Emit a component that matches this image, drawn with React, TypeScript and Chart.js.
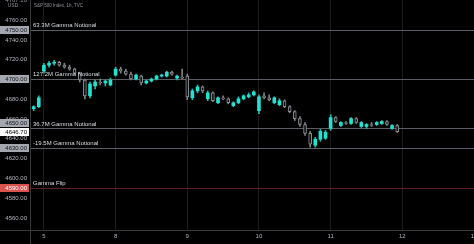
import React, { useEffect, useRef } from 'react';
import { Chart, registerables } from 'chart.js';
Chart.register(...registerables);

// ---- data ----
const dayLabels = ['5', '8', '9', '10', '11', '12', '15'];
const sessionDay = [-1, 0, 1, 2, 3, 4];
const sessionFirstSlot = [12, 0, 0, 0, 0, 0];
const sessionBars = [2, 14, 14, 14, 14, 14];
const slotsPerDay = 14;

const opens = [
  4670, 4672,
  4708, 4714, 4716, 4717, 4714, 4712, 4710, 4706, 4699, 4683, 4693, 4697, 4696, 4694,
  4704, 4710, 4708, 4705, 4700, 4703, 4696, 4698, 4700, 4703, 4703, 4707, 4701, 4702,
  4703, 4681, 4688, 4692, 4680, 4686, 4676, 4681, 4680, 4673, 4676, 4680, 4682, 4684,
  4668, 4683, 4681, 4676, 4674, 4678, 4672, 4667, 4660, 4654, 4645, 4633, 4639, 4640,
  4650, 4661, 4653, 4656, 4655, 4660, 4652, 4652, 4654, 4654, 4655, 4657, 4650, 4653,
];
const highs = [
  4673, 4683,
  4716, 4718, 4719, 4718, 4716, 4714, 4711, 4707, 4700, 4697, 4699, 4700, 4699, 4701,
  4712, 4712, 4710, 4707, 4705, 4704, 4699, 4701, 4704, 4705, 4708, 4708, 4704, 4710,
  4705, 4690, 4694, 4693, 4688, 4687, 4682, 4683, 4681, 4677, 4682, 4684, 4686, 4688,
  4684, 4686, 4684, 4682, 4680, 4679, 4673, 4668, 4662, 4656, 4647, 4641, 4649, 4648,
  4664, 4662, 4657, 4657, 4661, 4661, 4657, 4655, 4656, 4657, 4658, 4658, 4654, 4654,
];
const lows = [
  4668, 4671,
  4706, 4712, 4714, 4713, 4711, 4709, 4705, 4697, 4680, 4681, 4690, 4694, 4693, 4693,
  4703, 4706, 4704, 4699, 4699, 4694, 4695, 4697, 4699, 4702, 4702, 4704, 4699, 4700,
  4679, 4679, 4686, 4686, 4678, 4677, 4675, 4679, 4675, 4672, 4675, 4679, 4681, 4683,
  4665, 4680, 4678, 4675, 4673, 4671, 4666, 4658, 4652, 4643, 4631, 4631, 4637, 4639,
  4648, 4656, 4652, 4654, 4654, 4655, 4651, 4650, 4652, 4653, 4654, 4653, 4649, 4646,
];
const closes = [
  4672, 4681,
  4714, 4716, 4717, 4714, 4712, 4710, 4706, 4699, 4683, 4695, 4697, 4696, 4698, 4699,
  4710, 4708, 4705, 4700, 4704, 4696, 4698, 4700, 4703, 4704, 4707, 4705, 4703, 4701,
  4682, 4688, 4692, 4688, 4686, 4678, 4681, 4680, 4676, 4676, 4680, 4683, 4684, 4687,
  4682, 4681, 4679, 4681, 4678, 4672, 4667, 4660, 4654, 4645, 4634, 4639, 4647, 4646,
  4661, 4657, 4656, 4655, 4660, 4656, 4656, 4654, 4653, 4656, 4657, 4654, 4653, 4646.7,
];

const yTicks = [4560, 4580, 4600, 4620, 4640, 4660, 4680, 4700, 4720, 4740, 4760];
const levelPrices = [4750, 4700, 4650, 4630];
const levelLabels = ['63.3M Gamma Notional', '127.2M Gamma Notional', '36.7M Gamma Notional', '-19.5M Gamma Notional'];
const gammaFlip = 4590;
const gammaFlipLabel = 'Gamma Flip';
const lastPrice = 4646.7;
const headerTitle = 'S&P 500 Index, 1h, TVC';
const topPriceLabel = '4767.10';
const currencyLabel = 'USD';

// ---- helpers ----
const xPos: number[] = [];
sessionDay.forEach((d, s) => {
  for (let k = 0; k < sessionBars[s]; k++) xPos.push(d + (sessionFirstSlot[s] + k) / slotsPerDay);
});

const UP = '#22e3cf';
const DOWN_BORDER = '#8a8d93';
const FONT = '"Liberation Sans", Arial, sans-serif';

export default function App() {
  const ref = useRef<HTMLCanvasElement>(null);
  useEffect(() => {
    document.body.style.margin = '0';
    document.body.style.background = '#000';
    const bodies = opens.map((o, i) => {
      let lo = Math.min(o, closes[i]);
      let hi = Math.max(o, closes[i]);
      if (hi - lo < 0.4) hi = lo + 0.4;
      return { x: xPos[i], y: [lo, hi] };
    });
    const wicks = highs.map((h, i) => ({ x: xPos[i], y: [lows[i], h] }));
    const isUp = opens.map((o, i) => closes[i] >= o);

    const overlay = {
      id: 'overlay',
      beforeDraw(chart: any) {
        const c = chart.ctx;
        c.save();
        c.fillStyle = '#000';
        c.fillRect(0, 0, chart.width, chart.height);
        c.restore();
      },
      beforeDatasetsDraw(chart: any) {
        const c = chart.ctx;
        const { left, right, bottom } = chart.chartArea;
        const y = chart.scales.y;
        c.save();
        c.lineWidth = 1;
        levelPrices.forEach((p) => {
          const py = Math.round(y.getPixelForValue(p)) + 0.5;
          c.strokeStyle = '#5b5e64';
          c.beginPath();
          c.moveTo(left, py);
          c.lineTo(right, py);
          c.stroke();
        });
        const fy = Math.round(y.getPixelForValue(gammaFlip)) + 0.5;
        c.strokeStyle = '#5a2424';
        c.beginPath();
        c.moveTo(left, fy);
        c.lineTo(right, fy);
        c.stroke();
        // axis lines
        c.strokeStyle = '#3a3a3a';
        c.beginPath();
        c.moveTo(Math.round(left) - 0.5, 0);
        c.lineTo(Math.round(left) - 0.5, chart.height);
        c.moveTo(0, Math.round(bottom) + 0.5);
        c.lineTo(chart.width, Math.round(bottom) + 0.5);
        c.stroke();
        c.restore();
      },
      afterDatasetsDraw(chart: any) {
        const c = chart.ctx;
        const { left } = chart.chartArea;
        const y = chart.scales.y;
        c.save();
        c.font = `6px ${FONT}`;
        c.fillStyle = '#dcdee4';
        c.textAlign = 'left';
        c.textBaseline = 'bottom';
        levelPrices.forEach((p, i) => {
          c.fillText(levelLabels[i], left + 2, y.getPixelForValue(p) - 1.5);
        });
        c.fillText(gammaFlipLabel, left + 2, y.getPixelForValue(gammaFlip) - 1.5);
        c.restore();
      },
      afterDraw(chart: any) {
        const c = chart.ctx;
        const { left } = chart.chartArea;
        const y = chart.scales.y;
        c.save();
        c.font = `6px ${FONT}`;
        c.textAlign = 'right';
        c.textBaseline = 'middle';
        // y tick labels from the library's scale ticks
        c.fillStyle = '#b2b5be';
        y.ticks.forEach((t: any) => {
          c.fillText(Number(t.value).toFixed(2), left - 4, y.getPixelForValue(t.value) + 0.5);
        });
        const box = (cy: number, bg: string, fg: string, txt: string) => {
          c.fillStyle = bg;
          c.fillRect(0, Math.round(cy - 4), left - 2, 8);
          c.fillStyle = fg;
          c.fillText(txt, left - 4, cy + 0.5);
        };
        const lastY = y.getPixelForValue(lastPrice);
        levelPrices.forEach((p) => {
          let cy = y.getPixelForValue(p);
          if (Math.abs(cy - lastY) < 8.5) cy = lastY - 8.5;
          box(cy, '#a4a7ae', '#131722', p.toFixed(2));
        });
        box(y.getPixelForValue(gammaFlip), '#d9534f', '#ffffff', gammaFlip.toFixed(2));
        box(lastY, '#ffffff', '#000000', lastPrice.toFixed(2));
        // header
        c.fillStyle = '#8f939b';
        c.textAlign = 'right';
        c.fillText(topPriceLabel, left - 4, 0);
        c.textAlign = 'center';
        c.font = `5px ${FONT}`;
        c.fillText(currencyLabel, 13, 5.5);
        c.textAlign = 'left';
        c.font = `4.5px ${FONT}`;
        c.fillText(headerTitle, left + 3, 5.5);
        c.restore();
      },
    };

    const chart = new Chart(ref.current!, {
      type: 'bar',
      data: {
        datasets: [
          {
            data: bodies as any,
            grouped: false,
            order: 0,
            barThickness: 3,
            borderSkipped: false,
            borderWidth: isUp.map((u) => (u ? 0 : 1)),
            backgroundColor: isUp.map((u) => (u ? UP : '#141414')),
            borderColor: isUp.map((u) => (u ? UP : DOWN_BORDER)),
          } as any,
          {
            data: wicks as any,
            grouped: false,
            order: 1,
            barThickness: 1,
            borderWidth: 0,
            backgroundColor: isUp.map((u) => (u ? '#1fb9aa' : '#7d8088')),
          } as any,
        ],
      },
      options: {
        animation: false,
        responsive: false,
        maintainAspectRatio: false,
        devicePixelRatio: 1,
        layout: { padding: 0 },
        plugins: { legend: { display: false }, tooltip: { enabled: false } },
        scales: {
          x: {
            type: 'linear',
            min: -0.18,
            max: 6.0,
            offset: false,
            afterBuildTicks: (s: any) => {
              s.ticks = dayLabels.map((_, i) => ({ value: i }));
            },
            afterFit: (s: any) => {
              s.height = 14;
              s.paddingLeft = 0;
              s.paddingRight = 0;
            },
            ticks: {
              callback: (v: any) => dayLabels[v] ?? '',
              color: '#b2b5be',
              font: { size: 6, family: FONT },
              padding: 3,
              maxRotation: 0,
              autoSkip: false,
            },
            grid: { color: '#1c1c1c', drawTicks: false, offset: false },
            border: { display: false },
          },
          y: {
            type: 'linear',
            min: 4547.2,
            max: 4780,
            afterBuildTicks: (s: any) => {
              s.ticks = yTicks.map((v) => ({ value: v }));
            },
            afterFit: (s: any) => {
              s.width = 31;
              s.paddingTop = 0;
              s.paddingBottom = 0;
            },
            ticks: { display: false },
            grid: { display: false, drawTicks: false },
            border: { display: false },
          },
        },
      },
      plugins: [overlay],
    });
    return () => chart.destroy();
  }, []);

  return (
    <div style={{ width: 474, height: 244, background: '#000' }}>
      <canvas ref={ref} width={474} height={244} style={{ display: 'block', width: 474, height: 244 }} />
    </div>
  );
}
